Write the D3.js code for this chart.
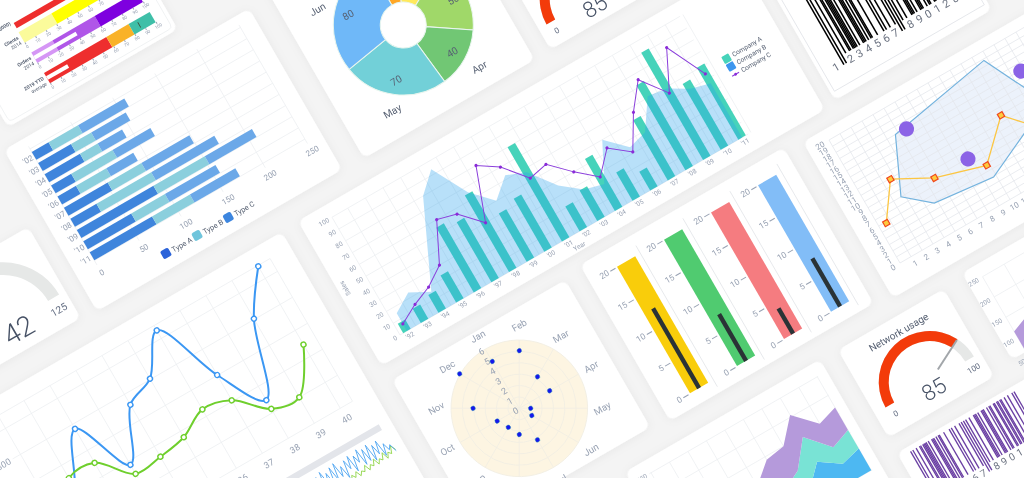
<!DOCTYPE html>
<html><head><meta charset="utf-8">
<style>html,body{margin:0;padding:0;background:#f4f4f4;overflow:hidden}svg{display:block;filter:blur(.35px)}text{font-family:Roboto,sans-serif}</style>
<script src="https://cdn.jsdelivr.net/npm/d3@7/dist/d3.min.js"></script>
</head><body><svg id="c" width="1024" height="478"></svg>
<script>
// ---- main combo chart
const mainYears=["'92","'93","'94","'95","'96","'97","'98","'99","'00","'01","'02","'03","'04","'05","'06","'07","'08","'09","'10","'11"];
const companyA=[8,12,15,23,55,51,65,41,45,80,21,26,44,24,16,51,72,91,56,61];
const companyB=[15,24,16,48,80,94,66,50,63,57,37,25,21,50,35,39,61,59,50,46];
const companyC=[6,14,20,30,60,56,40,80,70,52,55,40,27,43,31,56,75,55,85,54];
const mainYTicks=[0,10,20,30,40,50,60,70,80,90,100];
// ---- stacked horizontal bars
const hbarYears=["'02","'03","'04","'05","'06","'07","'08","'09","'10","'11"];
const typeA=[20,39,42,24,22,52,31,91,57,74];
const typeB=[35,24,21,49,36,40,65,61,40,45];
const typeC=[55,41,29,45,32,57,75,56,60,54];
const hbarTicks=[0,50,100,150,200,250];
// ---- spline chart
const splineX=[30,31,32,33,34,35,36,37,38,39,40];
const splineBlue=[60,158,287,140,270,302,398,226,110,302,410];
const splineGreen=[112,188,189,114,120,133,170,153,85,75,184];
const splineYTicks=[0,75,150,225,300,375];
const splineXTicks=[30,31,32,33,34,35,36,37,38,39,40];
// ---- sparkline strip
const sparkBlue=[20,35,18,45,22,60,25,70,30,55,80,35,65,28,75,40,85,30,70,45,88,35,92,40,78,30,90,38,85,25,95,45,80,30,92,35,98,40,75,25,88,50,95,30,85,55,100,35,90,40,97,30,85,45,92,28,70,40,55,25];
const sparkGreen=[5,8,4,10,6,12,5,9,14,6,11,7,15,5,12,8,18,6,14,9,16,7,20,10,15,6,22,9,12,5,24,14,18,8,26,12,30,10,20,7,28,14,32,10,24,16,36,12,28,18,40,14,30,20,44,16,35,24,50,30];
// ---- polar scatter
const polarMonths=["Jan","Feb","Mar","Apr","May","Jun","Jul","Aug","Sep","Oct","Nov","Dec"];
const polarValues=[4.75,5.06,3.2,3.08,1,1.27,3.2,2.3,1.93,2.24,4.06,6.05];
const polarTicks=[0,1,2,3,4,5,6];
// ---- donut
const donutLabels=["Jan","Feb","Mar","Apr","May","Jun"];
const donutValues=[20,30,50,40,70,80];
const donutColors=["#ffa726","#ffe95c","#a0d869","#71c774","#72d0d8","#6fb8f8"];
// ---- bullet columns
const columnValues=[12.6,7.4,4,7.6];
const columnColors=["#f9cd0b","#50cb70","#f57c80","#82bdf7"];
const columnTicks=[0,5,10,15,20];
// ---- stacked area
const areaIdx=[0,1,2,3,4,5,6,7,8,9];
const areaBlue=[5,8,10,14,18,20,30,80,46,58];
const areaTeal=[10,12,15,21,27,40,54,66,44,50];
const areaPurple=[10,20,30,35,55,82,66,59,63,60];
const areaTicks=[0,50,100,150,200,250];
const areaRight=[115,135,150,120,170,190,160,200,175,185];
// ---- grid scatter
const polyX=[13.7,16.3,9.77,4.7,2.67,4.75];
const polyY=[18.8,9.3,3.9,4.9,8,16];
const circleX=[5.72,8.73,15.8];
const circleY=[15.9,7.9,14.9];
const squareX=[0.64,2.65,5.7,9.76,12.7,15.7];
const squareY=[5.84,10.9,7.95,5.8,10.9,5];
const gridXTicks=d3.range(1,21);
const gridYTicks=d3.range(0,21);
// ---- range bullets
const rangeLabels=[["Revenue ($000)"],["Clients","2014"],["Orders","2014"],["2019 YTD","average"]];
const rangeStops=[[100],[31,72,100],[20,60,100],[59,80,100]];
const rangeColors=[["#ee2e2e"],["#fbfb9b","#ffff00","#ffe000"],["#d596f5","#b056e8","#7e00df"],["#ee2e2e","#f9b228","#3fbfa8"]];
const rangeMeasure=[0,0,40,20];
const rangeTicks=[0,10,20,30,40,50,60,70,80,90,100];
// ---- barcode
const barcodeLeft=["101","0010011","0111101","0011101","0110001","0000101","0010001","01010"];
const barcodeRight=["1001000","1110100","1110010","1100110","1101100","1001000","101"];
const barcodeDigits=["2","3","4","5","6","7","8","9","0","1","2","8"];

const INK="#98a2b3",DARK="#566072",GRID="#eceef1";
const svg=d3.select("#c");
const defs=svg.append("defs");
const f=defs.append("filter").attr("id","sh").attr("x","-15%").attr("y","-15%").attr("width","130%").attr("height","130%");
f.append("feDropShadow").attr("dx",0).attr("dy",1).attr("stdDeviation",5).attr("flood-color","#000").attr("flood-opacity",.05);
const at=(x,y,p=svg)=>p.append("g").attr("transform",`translate(${x},${y}) rotate(-30)`);
const card=(x,y,w,h)=>at(x,y).append("rect").attr("width",w).attr("height",h).attr("rx",7).attr("fill","#fff").attr("filter","url(#sh)");
const ax=(g,size,color=INK)=>{g.attr("font-size",size).attr("font-family","Roboto,sans-serif").attr("color",color);g.select(".domain").remove();return g};
const hlines=(g,vals,y,x0,x1,c=GRID)=>g.append("g").selectAll("line").data(vals).join("line").attr("x1",x0).attr("x2",x1).attr("y1",y).attr("y2",y).attr("stroke",c).attr("stroke-width",.7);
const vlines=(g,vals,x,y0,y1,c=GRID)=>g.append("g").selectAll("line").data(vals).join("line").attr("y1",y0).attr("y2",y1).attr("x1",x).attr("x2",x).attr("stroke",c).attr("stroke-width",.7);

// cards
[[-92,-46,196,200],[4,150,283,186],[-145,327,200,105],[-82,442,420,300],[264,-15,197,200],[500,-38,122,101],
 [298,221,512,167],[735,-73,181,200],[803,142,400,180],[580,265,235,180],[392,380,200,170],[625,472,225,200],
 [838,350,122,101],[897,453,200,150],[962,273,150,100]].forEach(c=>card(...c));

// ---------- range bullets (top-left)
(function(){
 const inner=at(-92,-46);
 inner.append("rect").attr("x",4).attr("y",4).attr("width",188).attr("height",192).attr("rx",4).attr("fill","none").attr("stroke","#eceef0").attr("stroke-width",.7);
 const x=d3.scaleLinear().domain([0,100]).range([0,122]);
 rangeLabels.forEach((lab,i)=>{
  const k=3-i;
  const first=i==0;
  const g=first?at(16.7,28.3):at(50-k*12.7,83.3-k*20.3);
  const h=first?6:12;
  let prev=0;
  rangeStops[i].forEach((s,j)=>{g.append("rect").attr("x",x(prev)).attr("y",-h).attr("width",x(s)-x(prev)).attr("height",h).attr("fill",rangeColors[i][j]);prev=s});
  if(rangeMeasure[i])g.append("rect").attr("x",x(0)).attr("y",-8).attr("width",x(rangeMeasure[i])).attr("height",4).attr("fill","#fff");
  if(i==3)g.append("rect").attr("x",x(87)).attr("y",-9).attr("width",.7).attr("height",6).attr("fill","#3a4a3a");
  if(!first)ax(g.append("g").call(d3.axisBottom(x).tickValues(rangeTicks).tickSize(2).tickPadding(1)),4.5);
  lab.forEach((t,j)=>g.append("text").attr("x",-3).attr("y",-6+j*6).attr("text-anchor","end").attr("font-size",5).attr("font-weight",j?400:700).attr("fill","#566072").text(t));
 });
})();

// ---------- stacked bars
(function(){
 const g=at(97,265);
 const x=d3.scaleLinear().domain([0,250]).range([0,243]);
 const y=d3.scalePoint().domain(hbarYears).range([-126,-10]);
 const step=y.step();
 hlines(g,d3.range(0,11),d=>-137+d*step+3,0,243);
 vlines(g,hbarTicks,d=>x(d),-137,0);
 const rows=hbarYears.map((l,i)=>({l,v:[typeA[i],typeB[i],typeC[i]]}));
 const cols=["#3f85dc","#8bcfdd","#6ba8e8"];
 rows.forEach(r=>{let p=0;r.v.forEach((v,j)=>{g.append("rect").attr("x",x(p)).attr("y",y(r.l)-4.6).attr("width",x(p+v)-x(p)).attr("height",9.2).attr("fill",cols[j]);p+=v})});
 ax(g.append("g").call(d3.axisBottom(x).tickValues(hbarTicks).tickSize(0).tickPadding(6)),8);
 ax(g.append("g").call(d3.axisLeft(y).tickSize(0).tickPadding(2)),8);
 const lg=[["Type A","#2b63d9"],["Type B","#70c5dc"],["Type C","#3d86df"]];
 lg.forEach((l,i)=>{
  g.append("rect").attr("x",61+i*36).attr("y",20).attr("width",9).attr("height",9).attr("rx",2).attr("fill",l[1]);
  g.append("text").attr("x",72.5+i*36).attr("y",27.5).attr("font-size",7.4).attr("fill",DARK).text(l[0]);
 });
})();

// ---------- gauges
function gauge(cx,cy,k,val,max,title,dx){
 const g=at(cx,cy);
 const a=d3.scaleLinear().domain([0,max]).range([-Math.PI/2,Math.PI/2]);
 const arc=d3.arc().innerRadius(41*k).outerRadius(51*k);
 g.append("path").attr("d",arc({startAngle:a(0),endAngle:a(max)})).attr("fill","#e6e8e7");
 g.append("path").attr("d",arc({startAngle:a(0),endAngle:a(val)})).attr("fill","#f33b0a");
 const p0=d3.pointRadial(a(val),15*k),p1=d3.pointRadial(a(val),50*k);
 g.append("line").attr("x1",p0[0]).attr("y1",p0[1]).attr("x2",p1[0]).attr("y2",p1[1]).attr("stroke","#a2a6aa").attr("stroke-width",2);
 g.append("text").attr("x",dx).attr("y",16*k).attr("text-anchor","middle").attr("font-size",22*k).attr("font-weight",300).attr("fill","#475266").text(val);
 g.append("text").attr("x",-45*k).attr("y",13*k).attr("text-anchor","middle").attr("font-size",8*k).attr("fill","#667085").text(0);
 g.append("text").attr("x",45*k).attr("y",13*k).attr("text-anchor","middle").attr("font-size",8*k).attr("fill","#667085").text(max);
 if(title)g.append("text").attr("x",-2).attr("y",-55).attr("text-anchor","middle").attr("font-size",10).attr("fill",DARK).text(title);
}
gauge(3,327,1.27,42,125,"",12);
gauge(590.7,-1,1,85,100,"",0);
gauge(929.7,382,1,85,100,"Network usage",0);

// ---------- spline
(function(){
 const g=at(314.3,423.3);
 const x=d3.scaleLinear().domain([39,40]).range([0,30]);
 const y=d3.scaleLinear().domain([0,75]).range([0,-30]);
 hlines(g,[0,75,150,225,300,375,412],d=>y(d),x(29.7),x(40.47));
 vlines(g,[...splineXTicks,40.47],d=>x(d),y(0),y(412));
 ax(g.append("g").call(d3.axisBottom(x).tickValues(splineXTicks).tickFormat(d3.format("d")).tickSize(0).tickPadding(9)),9);
 ax(g.append("g").attr("transform",`translate(${x(29.7)},0)`).call(d3.axisLeft(y).tickValues(splineYTicks).tickFormat(d3.format("d")).tickSize(0).tickPadding(3)),9);
 const line=d3.line().x((d,i)=>x(splineX[i])).y(d=>y(d)).curve(d3.curveCatmullRom.alpha(.5));
 [[splineBlue,"#3b97f3"],[splineGreen,"#6fcf2d"]].forEach(([s,c])=>{
  g.append("path").attr("d",line(s)).attr("fill","none").attr("stroke",c).attr("stroke-width",2);
  g.append("g").selectAll("circle").data(s).join("circle").attr("cx",(d,i)=>x(splineX[i])).attr("cy",d=>y(d)).attr("r",2.5).attr("fill","#fff").attr("stroke",c).attr("stroke-width",1.4);
 });
 // spark strip
 const s=at(382,430);
 s.append("rect").attr("x",-300).attr("y",-6.5).attr("width",300).attr("height",6.5).attr("fill","#e3e5ea");
 const sx=d3.scaleLinear().domain([0,sparkBlue.length-1]).range([-156,2]);
 const sy=d3.scaleLinear().domain([0,100]).range([32,4]);
 const sl=d3.line().x((d,i)=>sx(i)).y(d=>sy(d));
 s.append("path").attr("d",sl(sparkGreen)).attr("fill","none").attr("stroke","#8fd447").attr("stroke-width",.8);
 s.append("path").attr("d",sl(sparkBlue)).attr("fill","none").attr("stroke","#4aa3f0").attr("stroke-width",.8);
})();

// ---------- donut
(function(){
 const g=at(403.3,25);
 const pie=d3.pie().sort(null)(donutValues);
 const arc=d3.arc().innerRadius(23).outerRadius(70);
 g.selectAll("path").data(pie).join("path").attr("d",arc).attr("fill",(d,i)=>donutColors[i]).attr("stroke","#e8f5ee").attr("stroke-width",1);
 const lab=d3.arc().innerRadius(56).outerRadius(56), out=d3.arc().innerRadius(87).outerRadius(87);
 g.append("g").selectAll("text").data(pie).join("text").attr("transform",d=>`translate(${lab.centroid(d)})`).attr("text-anchor","middle").attr("dy",".35em").attr("font-size",10).attr("fill",DARK).text(d=>d.value);
 g.append("g").selectAll("text").data(pie).join("text").attr("transform",d=>`translate(${out.centroid(d)})`).attr("text-anchor","middle").attr("dy",".35em").attr("font-size",10).attr("fill",DARK).text((d,i)=>donutLabels[i]);
})();

// ---------- main chart
(function(){
 const g=at(400,335);
 const W=402,H=136;
 const x=d3.scalePoint().domain(mainYears).range([8,395]);
 const y=d3.scaleLinear().domain([0,100]).range([0,-H]);
 const st=x.step();
 hlines(g,mainYTicks,d=>y(d),0,W);
 vlines(g,mainYears,d=>x(d)+st/2,y(0),y(100));
 vlines(g,[0],d=>0,y(0),y(100));
 g.append("g").selectAll("rect").data(companyA).join("rect").attr("x",(d,i)=>x(mainYears[i])-4.3).attr("width",8.6).attr("y",d=>y(d)).attr("height",d=>-y(d)).attr("fill","#46d3ba");
 const area=d3.area().x((d,i)=>x(mainYears[i])).y0(0).y1(d=>y(d));
 g.append("path").attr("d",area(companyB)).attr("fill","#26a0ec").attr("fill-opacity",.33);
 const line=d3.line().x((d,i)=>x(mainYears[i])).y(d=>y(d));
 g.append("path").attr("d",line(companyC)).attr("fill","none").attr("stroke","#8a3ddb").attr("stroke-width",1);
 g.append("g").selectAll("circle").data(companyC).join("circle").attr("cx",(d,i)=>x(mainYears[i])).attr("cy",d=>y(d)).attr("r",1.6).attr("fill","#8a2bd8");
 ax(g.append("g").call(d3.axisBottom(x).tickSize(0).tickPadding(3)),6.5);
 ax(g.append("g").call(d3.axisLeft(y).tickValues(mainYTicks).tickSize(0).tickPadding(4)),6.5);
 g.append("text").attr("x",200).attr("y",15).attr("font-size",6.5).attr("text-anchor","middle").attr("fill",INK).text("Year");
 g.append("text").attr("transform","translate(-22,-68) rotate(-90)").attr("font-size",6.5).attr("text-anchor","middle").attr("fill",INK).text("Sales");
 [["Company A","#46d3ba"],["Company B","#3d96ee"]].forEach((l,i)=>{
  g.append("rect").attr("x",417).attr("y",-80+i*9).attr("width",8).attr("height",8).attr("rx",1).attr("fill",l[1]);
  g.append("text").attr("x",428).attr("y",-74+i*9).attr("font-size",6.5).attr("fill",DARK).text(l[0]);
 });
 g.append("line").attr("x1",417).attr("x2",425).attr("y1",-58).attr("y2",-58).attr("stroke","#8a3ddb");
 g.append("circle").attr("cx",421).attr("cy",-58).attr("r",1.4).attr("fill","#8a2bd8");
 g.append("text").attr("x",428).attr("y",-56).attr("font-size",6.5).attr("fill",DARK).text("Company C");
})();

// ---------- barcode
function barcode(px,py,mod,h,color,digitColor,short){
 const g=at(px,py);
 const x=d3.scaleLinear().domain([0,1]).range([0,mod]);
 let pos=0;const cells=[];
 [...barcodeLeft,...barcodeRight].forEach((c,ci)=>{const guard=ci==0||ci==7||ci==14;
  [...c].forEach(b=>{if(b=="1")cells.push({p:pos,guard});pos++})});
 g.selectAll("rect").data(cells).join("rect").attr("x",d=>x(d.p)).attr("width",x(1)+.05).attr("y",-h).attr("height",d=>d.guard?h:h-short).attr("fill",color);
 const dx=[...d3.range(6).map(i=>3+7*i+3.5),...d3.range(6).map(i=>50+7*i+3.5)];
 g.append("text").attr("x",x(-5)).attr("y",2).attr("text-anchor","middle").attr("font-size",short+2).attr("fill",digitColor).text("1");
 g.append("g").selectAll("text").data(barcodeDigits).join("text").attr("x",(d,i)=>x(dx[i])).attr("y",2).attr("text-anchor","middle").attr("font-size",short+2).attr("fill",digitColor).text(d=>d);
}
(function(){const o=at(735,-73);o.append("rect").attr("x",4).attr("y",4).attr("width",173).attr("height",188).attr("fill","none").attr("stroke","#e2e4e8").attr("stroke-width",.8)})();
barcode(843.3,65,1.47,140,"#000","#6b7280",9);
barcode(938.5,501,1.27,57,"#6a3fa3","#6b7280",8);

// ---------- grid scatter
(function(){
 const g=at(900,263);
 const x=d3.scaleLinear().domain([0,20]).range([0,254]);
 const y=d3.scaleLinear().domain([0,20]).range([0,-142]);
 g.append("polygon").attr("points",polyX.map((d,i)=>[x(d),y(polyY[i])].join(",")).join(" ")).attr("fill","#ecf2fb");
 hlines(g,gridYTicks,d=>y(d),0,254,"#e4e7ec");
 vlines(g,[0,...gridXTicks],d=>x(d),0,-142,"#e4e7ec");
 g.append("polygon").attr("points",polyX.map((d,i)=>[x(d),y(polyY[i])].join(",")).join(" ")).attr("fill","none").attr("stroke","#74b3de").attr("stroke-width",1.2);
 ax(g.append("g").call(d3.axisBottom(x).tickValues(gridXTicks).tickFormat(d3.format("d")).tickSize(0).tickPadding(5)),8);
 ax(g.append("g").call(d3.axisLeft(y).tickValues(gridYTicks).tickFormat(d3.format("d")).tickSize(0).tickPadding(6)),8);
 g.append("g").selectAll("circle").data(circleX).join("circle").attr("cx",d=>x(d)).attr("cy",(d,i)=>y(circleY[i])).attr("r",7.6).attr("fill","#8b63e6");
 const l=d3.line().x(d=>x(d)).y((d,i)=>y(squareY[i]));
 g.append("path").attr("d",l(squareX)).attr("fill","none").attr("stroke","#fcc642").attr("stroke-width",1.3);
 g.append("g").selectAll("rect").data(squareX).join("rect").attr("x",d=>x(d)-2.7).attr("y",(d,i)=>y(squareY[i])-2.7).attr("width",5.4).attr("height",5.4).attr("fill","#fdcb3e").attr("stroke","#f0481c").attr("stroke-width",1.2);
})();

// ---------- bullet columns
(function(){
 const y=d3.scaleLinear().domain([0,20]).range([0,-146]);
 columnValues.forEach((v,i)=>{
  const g=at(690+i*47,393.3-i*27.2);
  g.append("rect").attr("x",0).attr("y",y(20)).attr("width",21).attr("height",-y(20)).attr("fill",columnColors[i]);
  g.append("rect").attr("x",8.3).attr("y",y(v)).attr("width",4.4).attr("height",-y(v)).attr("fill","#2a3336");
  g.append("line").attr("x1",27).attr("x2",27).attr("y1",8).attr("y2",-155).attr("stroke","#e4e6ea").attr("stroke-width",.8);
  ax(g.append("g").attr("transform","translate(-2,0)").call(d3.axisLeft(y).tickValues(columnTicks).tickSize(6).tickPadding(2)),8.5);
 });
})();

// ---------- polar
(function(){
 const g=at(519.3,408.3);
 const r=d3.scaleLinear().domain([0,6]).range([0,68.3]);
 const a=d3.scalePoint().domain(polarMonths).range([0,Math.PI*2*11/12]);
 g.append("circle").attr("r",r(6)).attr("fill","#fdf5e2");
 g.append("g").selectAll("circle").data(polarTicks.slice(1)).join("circle").attr("r",d=>r(d)).attr("fill","none").attr("stroke","#f1eee3").attr("stroke-width",.8);
 g.append("g").selectAll("line").data(polarMonths).join("line").attr("x2",d=>d3.pointRadial(a(d),r(6))[0]).attr("y2",d=>d3.pointRadial(a(d),r(6))[1]).attr("stroke","#f1eee3").attr("stroke-width",.8);
 const rr=d3.scaleLinear().domain([0,6]).range([0,-68.3]);
 ax(g.append("g").attr("transform","translate(-2,0)").call(d3.axisLeft(rr).tickValues(polarTicks).tickFormat(d3.format("d")).tickSize(0).tickPadding(0)),9);
 g.append("g").selectAll("text").data(polarMonths).join("text").attr("transform",d=>`translate(${d3.pointRadial(a(d),83)})`).attr("text-anchor","middle").attr("dy",".35em").attr("font-size",9.5).attr("fill",INK).text(d=>d);
 g.append("g").selectAll("circle").data(polarValues).join("circle")
  .attr("cx",(d,i)=>d3.pointRadial(a(polarMonths[i]),r(d))[0]).attr("cy",(d,i)=>d3.pointRadial(a(polarMonths[i]),r(d))[1]).attr("r",2.3).attr("fill","#1616ec").attr("stroke","#2a9fb0").attr("stroke-width",.4);
})();

// ---------- stacked area
(function(){
 const g=at(871.3,470.3);
 const x=d3.scalePoint().domain(areaIdx).range([-192,0]);
 const y=d3.scaleLinear().domain([0,250]).range([0,-108]);
 hlines(g,areaTicks,d=>y(d),-194,1);
 vlines(g,areaIdx,d=>x(d),0,-108);
 const rows=areaIdx.map(i=>({i,b:areaBlue[i],t:areaTeal[i],p:areaPurple[i]}));
 const st=d3.stack().keys(["b","t","p"])(rows);
 const ar=d3.area().x(d=>x(d.data.i)).y0(d=>y(d[0])).y1(d=>y(d[1]));
 const cols=["#4db8f2","#79e3d5","#b59adb"];
 g.append("g").selectAll("path").data(st).join("path").attr("d",ar).attr("fill",(d,i)=>cols[i]);
 ax(g.append("g").attr("transform","translate(-194,0)").call(d3.axisLeft(y).tickValues(areaTicks).tickSize(0).tickPadding(3)),6.5);
})();

// right-hand fragment
(function(){
 const g=at(1041,378);
 const x=d3.scalePoint().domain(areaIdx).range([0,225]);
 const y=d3.scaleLinear().domain([0,250]).range([0,-117]);
 hlines(g,areaTicks,d=>y(d),0,225);
 vlines(g,areaIdx,d=>x(d),0,-117);
 const ar=d3.area().x((d,i)=>x(areaIdx[i])).y0(0).y1(d=>y(d));
 g.append("path").attr("d",ar(areaRight)).attr("fill","#b59adb");
 ax(g.append("g").call(d3.axisLeft(y).tickValues(areaTicks).tickSize(0).tickPadding(5)),6.5);
})();

// drop labels that lie wholly outside the picture
svg.selectAll("text").each(function(){
 const b=this.getBoundingClientRect();
 if(b.right<=0||b.left>=1024||b.bottom<=0||b.top>=478)this.remove();
});
</script></body></html>
